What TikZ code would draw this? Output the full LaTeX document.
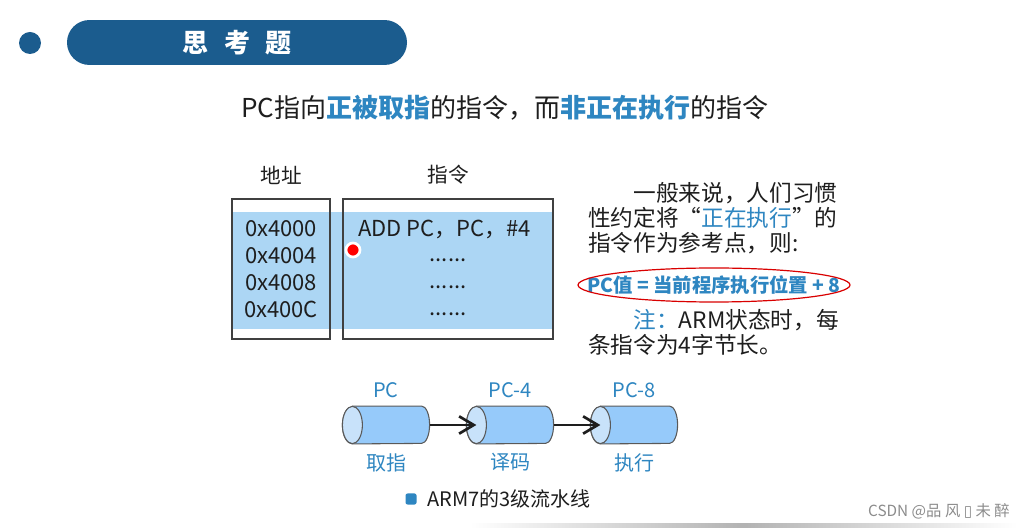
\documentclass[tikz,border=0pt]{standalone}
\usepackage{fontspec}
\setmainfont{Noto Sans CJK SC}
\newfontfamily\symfont{DejaVu Sans}
\usetikzlibrary{arrows.meta,positioning,shapes.geometric}

\definecolor{titleblue}{RGB}{27,92,142}
\definecolor{keyblue}{RGB}{46,134,193}
\definecolor{bandblue}{RGB}{172,214,244}
\definecolor{pipebody}{RGB}{150,202,250}
\definecolor{pipeend}{RGB}{200,226,250}
\definecolor{inkgray}{RGB}{30,30,30}

\tikzset{
  every node/.style={text=inkgray},
  memcell/.style={font=\fontsize{16.5}{20}\selectfont, inner sep=0pt, anchor=base},
  pipe/.style={minimum width=65pt, minimum height=28pt, inner sep=0pt},
  pipeedge/.style={draw=black!65, line width=0.8pt},
  pipelabel/.style={font=\fontsize{15}{18}\selectfont, text=keyblue, inner sep=1pt},
  pipearrow/.style={-{Straight Barb[length=11pt,width=13pt,line width=2pt]}, line width=1.9pt, draw=inkgray},
  note/.style={font=\fontsize{17}{18.75}\selectfont, align=left, inner sep=0pt, anchor=north west}
}

\begin{document}
\begin{tikzpicture}[x=0.75pt, y=-0.75pt]
    \useasboundingbox[fill=white] (0,0) rectangle (1017,530);

    % title bar
    \fill[titleblue] (30,43) circle (11);
    \node[fill=titleblue, rounded corners=16.8pt, minimum width=255pt, minimum height=33.7pt,
      font=\bfseries\fontsize{19.5}{20}\selectfont, text=white] (title) at (237,42.5)
      {思\hspace{0.6em}考\hspace{0.6em}题};

    % headline
    \node[font=\fontsize{19.5}{22}\selectfont] (headline) at (505,108)
      {PC指向\textbf{\color{keyblue}正被取指}的指令，而\textbf{\color{keyblue}非正在执行}的指令};

    % memory table
    \node[font=\fontsize{15.5}{18}\selectfont] (addrhead) at (281,175) {地址};
    \node[font=\fontsize{15.5}{18}\selectfont] (insthead) at (448,175) {指令};
    \fill[bandblue] (232,212) rectangle (553,329);
    \draw[black!75, line width=0.9pt] (232,199) rectangle (330,339);
    \draw[black!75, line width=0.9pt] (343,199) rectangle (553,339);
    \foreach \addr [count=\i] in {0x4000,0x4004,0x4008,0x400C}
      \node[memcell] (addr\i) at (281,237+26.7*\i-26.7) {\addr};
    \node[memcell, anchor=base west] (inst1) at (358,237) {ADD PC，PC，\#4};
    \foreach \i in {2,3,4}
      \node[memcell] (inst\i) at (448,235+26.7*\i-26.7) {......};
    \fill[red, draw=white, line width=2pt] (353,250) circle (7);

    % explanation
    \node[note] (remark) at (588,182)
      {\hspace*{2em}一般来说，人们习惯\\性约定将“{\color{keyblue}正在执行}”的\\指令作为参考点，则:};
    \node[font=\bfseries\fontsize{14.5}{18}\selectfont, text=keyblue, inner sep=0pt] (formula) at (714,285)
      {PC值 = 当前程序执行位置 + 8};
    \draw[red!85!black, line width=0.9pt] (formula.center) ellipse [x radius=136, y radius=17];
    \node[note] (armnote) at (588,309)
      {\hspace*{2em}{\color{keyblue}注：}ARM状态时，每\\条指令为4字节长。};

    % pipeline
    \node[pipe] (fetch) at (386,425) {};
    \node[pipe] (decode) at (510,425) {};
    \node[pipe] (execute) at (634,425) {};
    \foreach \n in {fetch,decode,execute} {
      \filldraw[pipeedge, fill=pipebody] ([xshift=7.5pt]\n.north west) -- ([xshift=-6pt]\n.north east)
        arc[start angle=90, end angle=-90, x radius=6pt, y radius=14pt]
        -- ([xshift=7.5pt]\n.south west)
        arc[start angle=270, end angle=90, x radius=7.5pt, y radius=14pt] -- cycle;
      \filldraw[pipeedge, fill=pipeend] ([xshift=7.5pt]\n.west) ellipse [x radius=7.5pt, y radius=14pt];
    }
    \draw[pipearrow] (fetch.east) -- ([xshift=7.5pt]decode.west);
    \draw[pipearrow] (decode.east) -- ([xshift=7.5pt]execute.west);
    \node[pipelabel, above=5pt of fetch] (fetchpc) {PC};
    \node[pipelabel, above=5pt of decode] (decodepc) {PC-4};
    \node[pipelabel, above=5pt of execute] (executepc) {PC-8};
    \node[pipelabel, below=6pt of fetch] (fetchname) {取指};
    \node[pipelabel, below=6pt of decode] (decodename) {译码};
    \node[pipelabel, below=6pt of execute] (executename) {执行};

    % legend
    \fill[keyblue, rounded corners=1.5pt] (405.5,493.5) rectangle (416.5,504.5);
    \node[font=\fontsize{15}{18}\selectfont, anchor=west, inner sep=0pt] (legend) at (427,499)
      {ARM7的3级流水线};

    % watermark
    \shade[left color=white, right color=white, middle color=black!30] (470,523) rectangle (1017,527);
    \node[font=\fontsize{11.5}{14}\selectfont, text=black!45, anchor=east, inner sep=0pt] (mark) at (1010,511)
      {CSDN @品 风 {\symfont ▯} 未 醉};
\end{tikzpicture}
\end{document}
